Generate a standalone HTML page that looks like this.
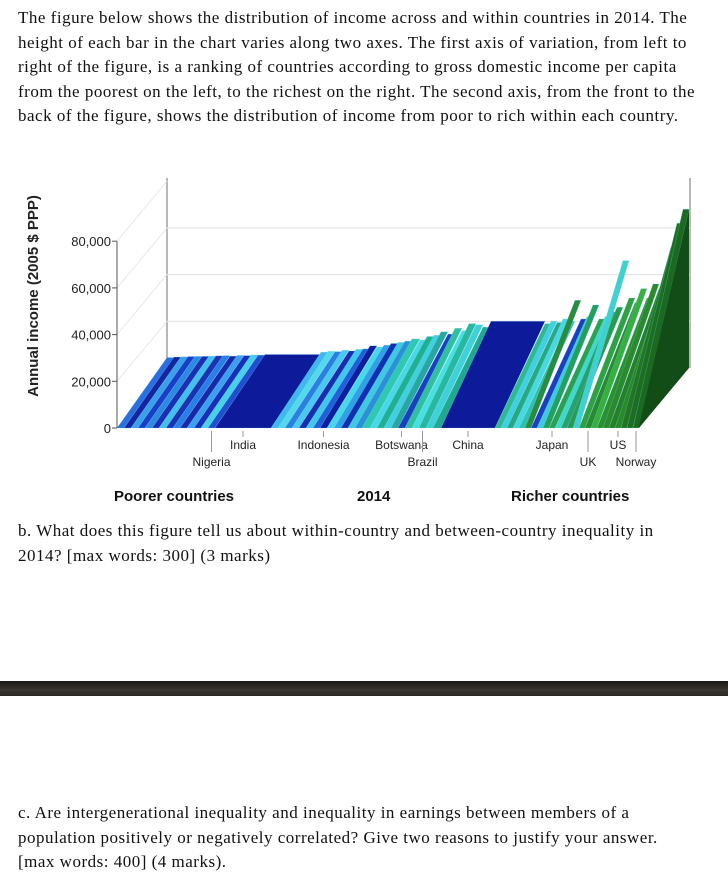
<!DOCTYPE html>
<html><head><meta charset="utf-8">
<style>
body{margin:0;width:728px;height:876px;background:#fff;position:relative;overflow:hidden;font-family:"Liberation Serif",serif;color:#111}
.p{position:absolute;left:18px;font-size:17px;letter-spacing:0.5px;line-height:24.5px;margin:0;width:682px}
.band{position:absolute;left:0;top:681px;width:728px;height:15px;background:linear-gradient(#1a1815,#3a3631 60%,#2a2723)}
svg text{font-family:"Liberation Sans",sans-serif}
</style></head><body>
<p class="p" style="top:6px">The figure below shows the distribution of income across and within countries in 2014. The height of each bar in the chart varies along two axes. The first axis of variation, from left to right of the figure, is a ranking of countries according to gross domestic income per capita from the poorest on the left, to the richest on the right. The second axis, from the front to the back of the figure, shows the distribution of income from poor to rich within each country.</p>

<svg style="position:absolute;left:0;top:0" width="728" height="520">
<g id="grid"></g><g id="bars"></g><g id="axis"></g><g id="labels"></g>
<text transform="translate(38,296) rotate(-90)" text-anchor="middle" font-size="15" font-weight="bold" fill="#222">Annual income (2005 $ PPP)</text>
<text x="114" y="501" font-size="15" font-weight="bold" fill="#111">Poorer countries</text>
<text x="357" y="501" font-size="15" font-weight="bold" fill="#111">2014</text>
<text x="511" y="501" font-size="15" font-weight="bold" fill="#111">Richer countries</text>
</svg>

<p class="p" style="top:519px">b. What does this figure tell us about within-country and between-country inequality in 2014? [max words: 300] (3 marks)</p>
<div class="band"></div>
<p class="p" style="top:801px;width:668px">c. Are intergenerational inequality and inequality in earnings between members of a population positively or negatively correlated? Give two reasons to justify your answer. [max words: 400] (4 marks).</p>

<script>
const yTicks=[0,20000,40000,60000,80000];
const yTickLabels=["0","20,000","40,000","60,000","80,000"];
const shares=[7,7,7,7,7,7,7,7,7,7,7,7,7,7,56,7,7,7,7,7,7,7,7,7,7,7,7,7,8,7,7,7,7,7,7,7,7,7,8,54,6,6,6,6,6,6,6,6,6,6,6,6,6,6,6,6,6,6,6,6,6,6,6,6];
const backIncome=[4500,4700,4800,4900,5000,5000,5100,5200,5300,5100,5400,5300,5600,5500,5800,6800,7200,7000,7600,7300,8000,8200,9500,9000,9800,10500,11000,11500,12500,12000,13500,14000,15500,14500,17000,16000,19000,18500,17500,20000,19000,20000,19500,21000,20000,29000,21000,22000,27000,21000,22000,24000,26000,46000,30000,28000,34000,30000,36000,34000,38000,52000,62000,68000];
const colors=["#2a6fe0","#1525a0","#3aa0e8","#1a3ec8","#2c8ae0","#1b2fb5","#40c0ea","#1a33b0","#2a7ee8","#1828a8","#3c9ff0","#1830b8","#48d0e8","#2050d0","#0d1a9a","#3fb8ea","#56d8ec","#2a80e0","#4cc8f0","#1a2cb0","#40c8e8","#2060d8","#0e1ea0","#48d8e8","#30a0e8","#1030b0","#40c8e0","#2a90d8","#30c8b0","#48d8e8","#20b090","#40d0e0","#2aa6a0","#1a40c0","#30c0a0","#48e0e0","#28b8a0","#40d0d8","#20a890","#0d1a9a","#30b890","#40d0e0","#28a880","#48d8e0","#30c0b0","#2a8a40","#1a40c0","#40c8e0","#22a060","#2ca050","#40d8c8","#28a070","#2a9a50","#40d0d0","#30a040","#2a8a30","#38b040","#2a9030","#2c8a2c","#268028","#2a8a2a","#227522","#1e6e22","#1a6a20"];
const labelNames=["Nigeria","India","Indonesia","Botswana","Brazil","China","Japan","UK","US","Norway"];
const labelIndex=[13,14,22,33,36,39,49,55,60,63];
const labelRow=[1,0,0,0,1,0,0,1,0,1];

const NS="http://www.w3.org/2000/svg";
const X0=117,BASE=428,DX=50,DY=60,S=46.7/20000,BACKX=167,RIGHTX=690;
const yF=v=>BASE-v*S, yB=v=>BASE-DY-v*S;
function mk(tag,attrs,parent){const e=document.createElementNS(NS,tag);for(const k in attrs)e.setAttribute(k,attrs[k]);parent.appendChild(e);return e;}
const grid=document.getElementById('grid'),bars=document.getElementById('bars'),axis=document.getElementById('axis'),labs=document.getElementById('labels');
const w1=mk('line',{x1:BACKX,y1:178,x2:BACKX,y2:yB(0),stroke:'#888','stroke-width':1.2},grid);


const w2=mk('line',{x1:RIGHTX,y1:178,x2:RIGHTX,y2:yB(0),stroke:'#888','stroke-width':1.2},grid);


yTicks.forEach((v,i)=>{
  if(v>0&&v<=60000){const g=mk('line',{x1:BACKX,y1:yB(v),x2:RIGHTX,y2:yB(v),stroke:'#e4e4e4','stroke-width':1.2},grid);
  
  }
  const d=mk('line',{x1:X0,y1:yF(v),x2:BACKX,y2:yB(v),stroke:'#e8e8e8','stroke-width':1},grid);
  
  
  const t=mk('line',{x1:X0-5,y1:yF(v),x2:X0,y2:yF(v),stroke:'#555'},axis);
  
  
  const tx=mk('text',{x:X0-6,y:yF(v)+5,'text-anchor':'end','font-size':13,fill:'#222'},axis);
  tx.textContent=yTickLabels[i];
  
  
});
const ax=mk('line',{x1:X0,y1:yF(80000),x2:X0,y2:BASE,stroke:'#555'},axis);


let x=X0;const xs=[];
shares.forEach((w,i)=>{
  const x0=x,x1=x+w;xs.push([x0,x1]);x=x1;
  const h=backIncome[i];
  const p=mk('polygon',{points:`${x0},${BASE} ${x1},${BASE} ${x1+DX},${yB(h)} ${x0+DX},${yB(h)}`,fill:colors[i],stroke:'rgba(120,220,255,0.35)','stroke-width':0.6},bars);
  
  
  if(i===shares.length-1){
    const sf=mk('polygon',{points:`${x1},${BASE} ${x1+DX},${yB(0)} ${x1+DX},${yB(h)} ${x1},${BASE-2}`,fill:'#124d18'},bars);
    
    
  }
});
labelNames.forEach((n,k)=>{
  const [a,b]=xs[labelIndex[k]];const cx=(a+b)/2;
  const l=mk('line',{x1:cx,y1:431,x2:cx,y2:labelRow[k]?452:437,stroke:'#999'},labs);
  
  
  const t=mk('text',{x:cx,y:labelRow[k]?466:449,'text-anchor':'middle','font-size':12,fill:'#222'},labs);
  t.textContent=n;
  
  
});
</script>
</body></html>
